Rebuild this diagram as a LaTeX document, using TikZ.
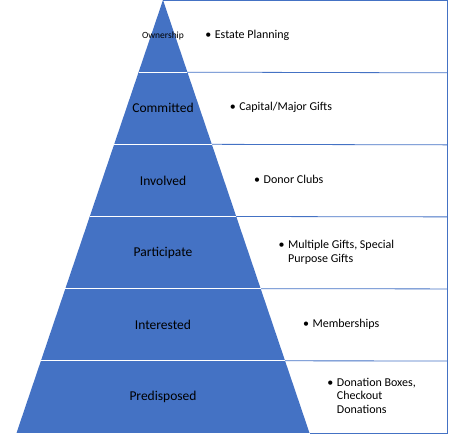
\documentclass[tikz,border=0pt]{standalone}
\usepackage{fontspec}
\setmainfont{Carlito}
\usetikzlibrary{calc}
\definecolor{pyr}{HTML}{4472C4}
\begin{document}
\begin{tikzpicture}[x=1pt,y=-1pt,
  lab/.style={font=\fontsize{13.5}{16}\selectfont, inner sep=0pt},
  smalllab/.style={font=\fontsize{9.5}{11}\selectfont, inner sep=0pt},
  item/.style={font=\fontsize{12}{13.5}\selectfont, anchor=west, align=left, inner sep=0pt},
  boxline/.style={draw=pyr, line width=0.8pt},
  sep/.style={draw=white, line width=1.3pt}]
\useasboundingbox (0,0) rectangle (451,435);
\coordinate (A) at (163,0);
\coordinate (BL) at (16.5,433);
\coordinate (BR) at (309.5,433);
\coordinate (TR) at (447,0.8);
\coordinate (BRR) at (447,433);
% boxes on the right
\draw[boxline] (A |- TR) -- (TR) -- (BRR) -- (BR);
\foreach \k in {1,...,5}{
  \draw[boxline] ($(A)!\k/6!(BR)$) -- ($(TR)!\k/6!(BRR)$);
}
% pyramid
\fill[pyr] (A) -- (BL) -- (BR) -- cycle;
\foreach \k in {1,...,5}{
  \draw[sep] ($(A)!\k/6!(BL)$) -- ($(A)!\k/6!(BR)$);
}
% level labels
\node[smalllab] (l1) at ($(A)!0.5/6!(A |- BR)$) {Ownership};
\node[lab] (l2) at ($(A)!1.5/6!(A |- BR)$) {Committed};
\node[lab] (l3) at ($(A)!2.5/6!(A |- BR)$) {Involved};
\node[lab] (l4) at ($(A)!3.5/6!(A |- BR)$) {Participate};
\node[lab] (l5) at ($(A)!4.5/6!(A |- BR)$) {Interested};
\node[lab] (l6) at ($(A)!5.5/6!(A |- BR)$) {Predisposed};
% items
\newcommand{\bul}[1]{\begin{tabular}{@{}l@{\hspace{3.5pt}}l@{}}\textbullet & #1\end{tabular}}
\node[item] (i1) at ($($(A)!0.5/6!(BR)$)+(30,0)$) {\bul{Estate Planning}};
\node[item] (i2) at ($($(A)!1.5/6!(BR)$)+(30,0)$) {\bul{Capital/Major Gifts}};
\node[item] (i3) at ($($(A)!2.5/6!(BR)$)+(30,0)$) {\bul{Donor Clubs}};
\node[item] (i4) at ($($(A)!3.5/6!(BR)$)+(30,0)$) {\bul{Multiple Gifts, Special\\ & Purpose Gifts}};
\node[item] (i5) at ($($(A)!4.5/6!(BR)$)+(30,0)$) {\bul{Memberships}};
\node[item] (i6) at ($($(A)!5.5/6!(BR)$)+(30,0)$) {\bul{Donation Boxes,\\ & Checkout\\ & Donations}};
\end{tikzpicture}
\end{document}
